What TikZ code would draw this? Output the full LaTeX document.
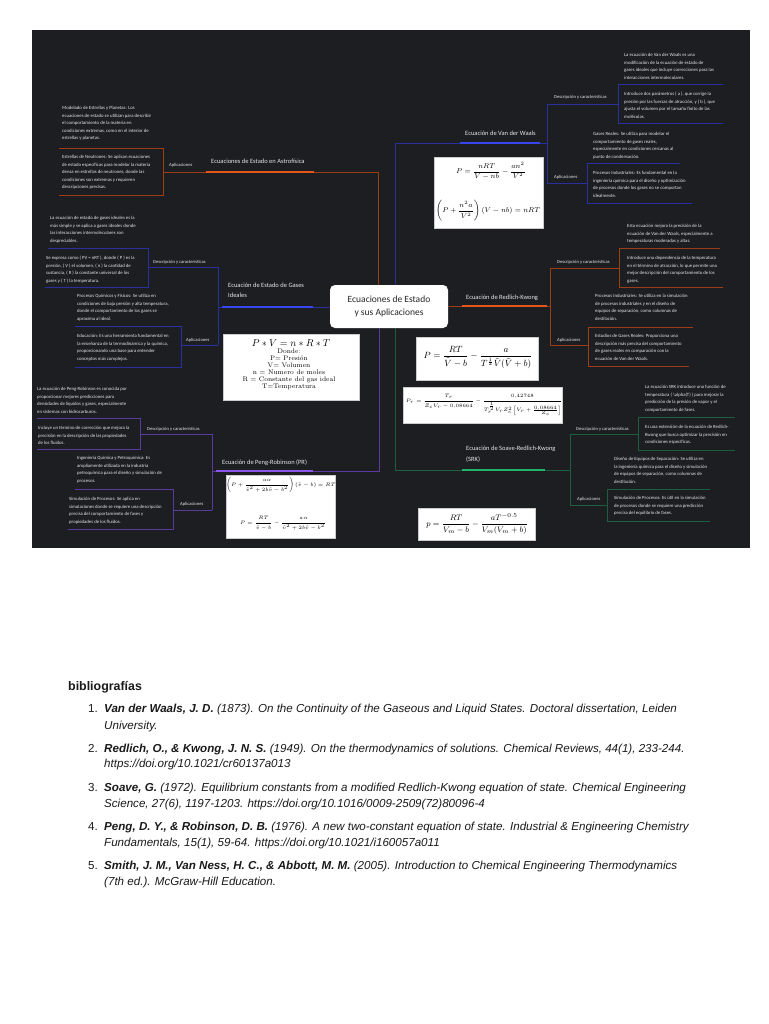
\documentclass[tikz,border=0pt]{standalone}
\usepackage{fontspec}
\usepackage{amsmath}
\newfontfamily\mapfont{Carlito}
\newfontfamily\bibfont{Liberation Sans}
\definecolor{bgdark}{HTML}{1D1E22}
\definecolor{maptext}{HTML}{E6E6E6}
\definecolor{bibtext}{HTML}{1A1A1A}
\definecolor{orL}{HTML}{9C3D17}
\definecolor{orU}{HTML}{E4571B}
\definecolor{blL}{HTML}{2A2F9E}
\definecolor{blU}{HTML}{3745EE}
\definecolor{puL}{HTML}{5A3A9E}
\definecolor{puU}{HTML}{8C55EA}
\definecolor{grL}{HTML}{1D5E3F}
\definecolor{grU}{HTML}{23B36A}
\tikzset{
 leaf/.style={font=\mapfont\fontsize{4.75}{7.6}\selectfont, text=maptext, align=left, inner sep=0pt, anchor=north west},
 lbl/.style={font=\mapfont\fontsize{4.6}{5}\selectfont, text=maptext, inner sep=0pt, anchor=base west},
 ttl/.style={font=\mapfont\fontsize{6.5}{10}\selectfont, text=maptext, align=left, inner sep=0pt, anchor=base west},
 ttltwo/.style={font=\mapfont\fontsize{6.5}{10.5}\selectfont, text=maptext, align=left, inner sep=0pt, anchor=north west},
 conn/.style={line width=0.9pt},
 ul/.style={line width=2.6pt},
 fbox/.style={fill=white, draw=gray!40, line width=0.3pt, inner sep=0pt},
 eq/.style={inner sep=0pt, text=black},
 bib/.style={font=\bibfont\fontsize{11.6}{13}\selectfont, text=bibtext, anchor=base west, inner sep=0pt},
 central/.style={fill=white, rounded corners=5pt, minimum width=118pt, minimum height=43pt, align=center, inner sep=0pt, text=black!85, font=\mapfont\fontsize{9.5}{12.5}\selectfont},
}
\begin{document}
\begin{tikzpicture}[x=1pt,y=-1pt]
\useasboundingbox (0,0) rectangle (768,1024);
\fill[white] (0,0) rectangle (768,1024);
\fill[bgdark] (32,30) rectangle (750,548);

% ---------- central ----------
\node[central] (root) at (389,306.5) {Ecuaciones de Estado\\y sus Aplicaciones};

% ---------- Astrofisica (orange, left top) ----------
\draw[conn,orL] (378,285) -- (378,172) -- (314,172);
\draw[ul,orU] (206,172) -- (314,172);
\node[ttl] (astT) at (211,163.5) {Ecuaciones de Estado en Astrofísica};
\draw[conn,orL] (206,172) -- (163,172);
\node[lbl] (astA) at (169,167) {Aplicaciones};
\draw[conn,orL] (59,148) -- (163,148) -- (163,195) -- (59,195);
\node[leaf] (astA1) at (62,106) {Modelado de Estrellas y Planetas: Los\\ecuaciones de estado se utilizan para describir\\el comportamiento de la materia en\\condiciones extremas, como en el interior de\\estrellas y planetas.};
\node[leaf] (astA2) at (62,155) {Estrellas de Neutrones: Se aplican ecuaciones\\de estado específicas para modelar la materia\\densa en estrellas de neutrones, donde las\\condiciones son extremas y requieren\\descripciones precisas.};

% ---------- Gases ideales (blue, left middle) ----------
\draw[conn,blL] (root.west |- 0,307) -- (313,307);
\draw[ul,blU] (222,307) -- (313,307);
\node[ttltwo] (gasT) at (228,282.5) {Ecuación de Estado de Gases\\Ideales};
\draw[conn,blL] (222,307) -- (218,307);
\draw[conn,blL] (218,267) -- (218,345);
\draw[conn,blL] (218,267) -- (148,267);
\node[lbl] (gasD) at (153,263) {Descripción y características};
\draw[conn,blL] (48,248) -- (148,248) -- (148,287) -- (45,287);
\node[leaf] (gasD1) at (50,216) {La ecuación de estado de gases ideales es la\\más simple y se aplica a gases ideales donde\\las interacciones intermoleculares son\\despreciables.};
\node[leaf] (gasD2) at (46,256) {Se expresa como ( PV = nRT ), donde ( P ) es la\\presión, ( V ) el volumen, ( n ) la cantidad de\\sustancia, ( R ) la constante universal de los\\gases y ( T ) la temperatura.};
\draw[conn,blL] (218,345) -- (181,345);
\node[lbl] (gasA) at (186,341) {Aplicaciones};
\draw[conn,blL] (75,326) -- (181,326) -- (181,367) -- (75,367);
\node[leaf] (gasA1) at (77,294) {Procesos Químicos y Físicos: Se utiliza en\\condiciones de baja presión y alta temperatura,\\donde el comportamiento de los gases se\\aproxima al ideal.};
\node[leaf] (gasA2) at (77,334) {Educación: Es una herramienta fundamental en\\la enseñanza de la termodinámica y la química,\\proporcionando una base para entender\\conceptos más complejos.};
% ideal gas box
\node[fbox, minimum width=136pt, minimum height=66pt] (gasBox) at (291,367) {};
\node[eq, font=\fontsize{10}{12}\selectfont] (gasEq) at (291,343) {$P*V=n*R*T$};
\node[eq, align=center, anchor=north, font=\fontsize{6.6}{7}\selectfont] (gasTxt) at (289,349) {Donde:\\P= Presión\\V= Volumen\\n = Numero de moles\\R = Constante del gas ideal\\T=Temperatura};

% ---------- Peng-Robinson (purple, left bottom) ----------
\draw[conn,puL] (379,328) -- (379,471) -- (313,471);
\draw[ul,puU] (216,471) -- (313,471);
\node[ttl] (prT) at (222,464) {Ecuación de Peng-Robinson (PR)};
\draw[conn,puL] (216,471) -- (212,471);
\draw[conn,puL] (212,434) -- (212,510);
\draw[conn,puL] (212,434) -- (140,434);
\node[lbl] (prD) at (147,430) {Descripción y características};
\draw[conn,puL] (37,418) -- (140,418) -- (140,449) -- (37,449);
\node[leaf] (prD1) at (37,387) {La ecuación de Peng-Robinson es conocida por\\proporcionar mejores predicciones para\\densidades de líquidos y gases, especialmente\\en sistemas con hidrocarburos.};
\node[leaf] (prD2) at (38,426) {Incluye un término de corrección que mejora la\\precisión en la descripción de las propiedades\\de los fluidos.};
\draw[conn,puL] (212,510) -- (173,510);
\node[lbl] (prA) at (180,505) {Aplicaciones};
\draw[conn,puL] (75,489) -- (173,489) -- (173,529) -- (68,529);
\node[leaf] (prA1) at (77,456) {Ingeniería Química y Petroquímica: Es\\ampliamente utilizada en la industria\\petroquímica para el diseño y simulación de\\procesos.};
\node[leaf] (prA2) at (69,497) {Simulación de Procesos: Se aplica en\\simulaciones donde se requiere una descripción\\precisa del comportamiento de fases y\\propiedades de los fluidos.};
\node[fbox, minimum width=109pt, minimum height=63pt] (prBox) at (280.5,506.5) {};
\node[eq, font=\fontsize{5.1}{6}\selectfont] (prEq1) at (281,485) {$\left(P+\dfrac{a\alpha}{\tilde v^2+2b\tilde v-b^2}\right)(\tilde v-b)=RT$};
\node[eq, font=\fontsize{5.4}{6}\selectfont] (prEq2) at (283,523) {$P=\dfrac{RT}{\tilde v-b}-\dfrac{a\alpha}{\tilde v^2+2b\tilde v-b^2}$};

% ---------- Van der Waals (blue, right top) ----------
\draw[conn,blL] (395,285) -- (395,143) -- (460,143);
\draw[ul,blU] (460,143) -- (540,143);
\node[ttl] (vdwT) at (465,136) {Ecuación de Van der Waals};
\draw[conn,blL] (540,143) -- (547,143);
\draw[conn,blL] (547,104) -- (547,183);
\draw[conn,blL] (547,104) -- (618,104);
\node[lbl] (vdwD) at (554,99) {Descripción y características};
\draw[conn,blL] (723,84) -- (618,84) -- (618,123) -- (723,123);
\node[leaf] (vdwD1) at (624,53) {La ecuación de Van der Waals es una\\modificación de la ecuación de estado de\\gases ideales que incluye correcciones para las\\interacciones intermoleculares.};
\node[leaf] (vdwD2) at (624,92) {Introduce dos parámetros ( a ), que corrige la\\presión por las fuerzas de atracción, y ( b ), que\\ajusta el volumen por el tamaño finito de las\\moléculas.};
\draw[conn,blL] (547,183) -- (587,183);
\node[lbl] (vdwA) at (554,179) {Aplicaciones};
\draw[conn,blL] (680,163) -- (587,163) -- (587,203) -- (692,203);
\node[leaf] (vdwA1) at (593,132) {Gases Reales: Se utiliza para modelar el\\comportamiento de gases reales,\\especialmente en condiciones cercanas al\\punto de condensación.};
\node[leaf] (vdwA2) at (593,171) {Procesos Industriales: Es fundamental en la\\ingeniería química para el diseño y optimización\\de procesos donde los gases no se comportan\\idealmente.};
\node[fbox, minimum width=109pt, minimum height=71pt] (vdwBox) at (488.5,192.5) {};
\node[eq, font=\fontsize{7}{8}\selectfont] (vdwEq1) at (491,171) {$P=\dfrac{nRT}{V-nb}-\dfrac{an^2}{V^2}$};
\node[eq, font=\fontsize{7}{8}\selectfont] (vdwEq2) at (488,211) {$\left(P+\dfrac{n^2a}{V^2}\right)(V-nb)=nRT$};

% ---------- Redlich-Kwong (orange, right middle) ----------
\draw[conn,orL] (root.east |- 0,306) -- (462,306);
\draw[ul,orU] (462,306) -- (547,306);
\node[ttl] (rkT) at (466,299) {Ecuación de Redlich-Kwong};
\draw[conn,orL] (547,306) -- (550,306);
\draw[conn,orL] (550,268) -- (550,345);
\draw[conn,orL] (550,268) -- (619,268);
\node[lbl] (rkD) at (557,263.5) {Descripción y características};
\draw[conn,orL] (720,248) -- (619,248) -- (619,287) -- (723,287);
\node[leaf] (rkD1) at (627,224) {Esta ecuación mejora la precisión de la\\ecuación de Van der Waals, especialmente a\\temperaturas moderadas y altas.};
\node[leaf] (rkD2) at (627,256) {Introduce una dependencia de la temperatura\\en el término de atracción, lo que permite una\\mejor descripción del comportamiento de los\\gases.};
\draw[conn,orL] (550,345) -- (588,345);
\node[lbl] (rkA) at (557,341.5) {Aplicaciones};
\draw[conn,orL] (693,327) -- (588,327) -- (588,366) -- (689,366);
\node[leaf] (rkA1) at (595,294) {Procesos Industriales: Se utiliza en la simulación\\de procesos industriales y en el diseño de\\equipos de separación, como columnas de\\destilación.};
\node[leaf] (rkA2) at (595,334) {Estudios de Gases Reales: Proporciona una\\descripción más precisa del comportamiento\\de gases reales en comparación con la\\ecuación de Van der Waals.};
\node[fbox, minimum width=122pt, minimum height=43pt] (rkBox1) at (477,358.5) {};
\node[eq, font=\fontsize{9}{10}\selectfont] (rkEq1) at (478,358) {$P=\dfrac{RT}{\tilde V-b}-\dfrac{a}{T^{\frac12}\tilde V(\tilde V+b)}$};
\node[fbox, minimum width=159pt, minimum height=36pt] (rkBox2) at (482.5,405) {};
\node[eq, font=\fontsize{5.2}{6}\selectfont] (rkEq2) at (484,405) {$P_r=\dfrac{T_r}{Z_cV_r-0{,}08664}-\dfrac{0{,}42748}{T_r^{\frac12}V_rZ_c^2\left[V_r+\frac{0{,}08664}{Z_c}\right]}$};

% ---------- Soave-Redlich-Kwong (green, right bottom) ----------
\draw[conn,grL] (395,328) -- (395,470) -- (462,470);
\draw[ul,grU] (462,470) -- (545,470);
\node[ttltwo] (srkT) at (466,446) {Ecuación de Soave-Redlich-Kwong\\(SRK)};
\draw[conn,grL] (545,470) -- (570,470);
\draw[conn,grL] (570,434) -- (570,505);
\draw[conn,grL] (570,434) -- (638,434);
\node[lbl] (srkD) at (576,430) {Descripción y características};
\draw[conn,grL] (735,417) -- (638,417) -- (638,450) -- (735,450);
\node[leaf] (srkD1) at (645,385) {La ecuación SRK introduce una función de\\temperatura ( \textbackslash alpha(T) ) para mejorar la\\predicción de la presión de vapor y el\\comportamiento de fases.};
\node[leaf] (srkD2) at (645,425) {Es una extensión de la ecuación de Redlich-\\Kwong que busca optimizar la precisión en\\condiciones específicas.};
\draw[conn,grL] (570,505) -- (607,505);
\node[lbl] (srkA) at (577,500.5) {Aplicaciones};
\draw[conn,grL] (710,489) -- (607,489) -- (607,521) -- (710,521);
\node[leaf] (srkA1) at (614,457) {Diseño de Equipos de Separación: Se utiliza en\\la ingeniería química para el diseño y simulación\\de equipos de separación, como columnas de\\destilación.};
\node[leaf] (srkA2) at (614,496) {Simulación de Procesos: Es útil en la simulación\\de procesos donde se requiere una predicción\\precisa del equilibrio de fases.};
\node[fbox, minimum width=117pt, minimum height=32pt] (srkBox) at (476.5,524) {};
\node[eq, font=\fontsize{8}{9}\selectfont] (srkEq) at (477,524) {$p=\dfrac{RT}{V_m-b}-\dfrac{aT^{-0.5}}{V_m(V_m+b)}$};

% ---------- bibliography ----------
\node[bib, font=\bibfont\bfseries\fontsize{12.4}{13}\selectfont] (bibH) at (68,690) {bibliografías};
\node[bib] (n1) at (88,712) {1.};
\node[bib] (b1a) at (104,712) {\textbf{\textit{Van der Waals, J. D.}} \textit{(1873). On the Continuity of the Gaseous and Liquid States. Doctoral dissertation, Leiden}};
\node[bib] (b1b) at (104,729) {\textit{University.}};
\node[bib] (n2) at (88,752) {2.};
\node[bib] (b2a) at (104,752) {\textbf{\textit{Redlich, O., \& Kwong, J. N. S.}} \textit{(1949). On the thermodynamics of solutions. Chemical Reviews, 44(1), 233-244.}};
\node[bib] (b2b) at (104,767) {\textit{https://doi.org/10.1021/cr60137a013}};
\node[bib] (n3) at (88,791) {3.};
\node[bib] (b3a) at (104,791) {\textbf{\textit{Soave, G.}} \textit{(1972). Equilibrium constants from a modified Redlich-Kwong equation of state. Chemical Engineering}};
\node[bib] (b3b) at (104,807) {\textit{Science, 27(6), 1197-1203. https://doi.org/10.1016/0009-2509(72)80096-4}};
\node[bib] (n4) at (88,830) {4.};
\node[bib] (b4a) at (104,830) {\textbf{\textit{Peng, D. Y., \& Robinson, D. B.}} \textit{(1976). A new two-constant equation of state. Industrial \& Engineering Chemistry}};
\node[bib] (b4b) at (104,846) {\textit{Fundamentals, 15(1), 59-64. https://doi.org/10.1021/i160057a011}};
\node[bib] (n5) at (88,869) {5.};
\node[bib] (b5a) at (104,869) {\textbf{\textit{Smith, J. M., Van Ness, H. C., \& Abbott, M. M.}} \textit{(2005). Introduction to Chemical Engineering Thermodynamics}};
\node[bib] (b5b) at (104,885) {\textit{(7th ed.). McGraw-Hill Education.}};
\end{tikzpicture}
\end{document}
